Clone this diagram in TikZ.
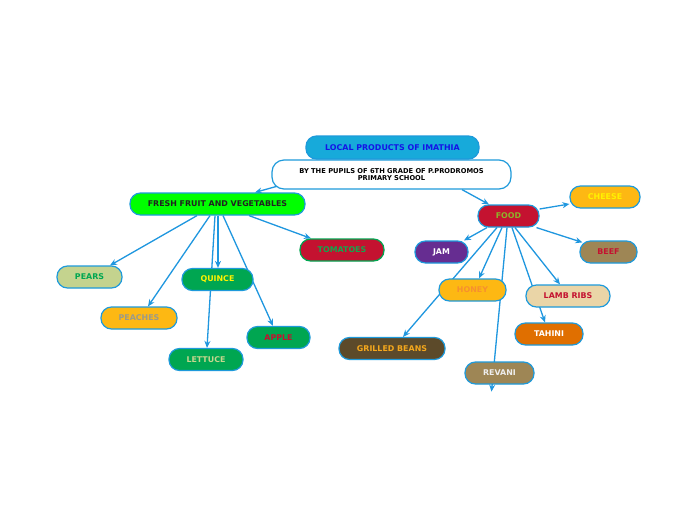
\documentclass[tikz,border=0pt]{standalone}
\usepackage{fontspec}
\setmainfont{DejaVu Sans}
\usetikzlibrary{arrows.meta,backgrounds}
\definecolor{bord}{HTML}{1E9ADB}
\definecolor{conn}{HTML}{1F97DF}
\definecolor{titlefill}{HTML}{17AADA}
\definecolor{titletext}{HTML}{1414E6}
\definecolor{lime}{HTML}{00FF00}
\definecolor{crim}{HTML}{C41230}
\definecolor{grn}{HTML}{00A651}
\definecolor{yel}{HTML}{FFF200}
\definecolor{amber}{HTML}{FDB813}
\definecolor{pear}{HTML}{C4D38E}
\definecolor{purp}{HTML}{662D91}
\definecolor{brn}{HTML}{9E8655}
\definecolor{dbrn}{HTML}{5C4A2A}
\definecolor{lamb}{HTML}{EAD5A7}
\definecolor{tah}{HTML}{E06F00}
\definecolor{olive}{HTML}{8DB52A}
\definecolor{honeytxt}{HTML}{F7902E}
\definecolor{beantxt}{HTML}{F5A81C}
\definecolor{peachtxt}{HTML}{9A9A8A}
\definecolor{lettxt}{HTML}{C7D68E}
\definecolor{revtxt}{HTML}{EEEEEE}
\definecolor{tomtxt}{HTML}{12A84E}
\definecolor{dark}{HTML}{222222}
\tikzset{
  pill/.style={draw=bord, line width=1.2pt, rounded corners=10.5pt, inner sep=0pt,
    minimum height=22pt, font=\fontsize{7.9}{9}\selectfont\bfseries, align=center},
  conn/.style={draw=conn, line width=1.3pt, -{Stealth[length=7pt,width=6pt]}},
}
\begin{document}
\begin{tikzpicture}[x=1pt,y=-1pt]
\useasboundingbox (0,0) rectangle (697,520);
% central nodes
\node[pill, fill=titlefill, text=titletext, minimum width=173pt, minimum height=23pt] (title) at (392.5,147.5) {LOCAL PRODUCTS OF IMATHIA};
\node[pill, fill=white, text=black, minimum width=239pt, minimum height=29pt, rounded corners=12pt, font=\fontsize{6.7}{7.6}\selectfont\bfseries] (sub) at (391.5,174.5) {BY THE PUPILS OF 6TH GRADE OF P.PRODROMOS\\PRIMARY SCHOOL};
% fruit branch
\node[pill, fill=lime, text=dark, minimum width=175pt] (fruit) at (217.5,204) {FRESH FRUIT AND VEGETABLES};
\node[pill, fill=crim, text=tomtxt, draw=grn, minimum width=84pt] (tom) at (342,250) {TOMATOES};
\node[pill, fill=pear, text=grn, minimum width=65pt] (pears) at (89.5,277) {PEARS};
\node[pill, fill=grn, text=yel, minimum width=71pt] (quince) at (217.5,279.5) {QUINCE};
\node[pill, fill=amber, text=peachtxt, minimum width=76pt] (peaches) at (139,318) {PEACHES};
\node[pill, fill=grn, text=crim, minimum width=63pt] (apple) at (278.5,337.5) {APPLE};
\node[pill, fill=grn, text=lettxt, minimum width=74pt] (lettuce) at (206,359.5) {LETTUCE};
% food branch
\node[pill, fill=crim, text=olive, minimum width=61pt] (food) at (508.5,216) {FOOD};
\node[pill, fill=amber, text=yel, minimum width=70pt] (cheese) at (605,197) {CHEESE};
\node[pill, fill=brn, text=crim, minimum width=57pt] (beef) at (608.5,252) {BEEF};
\node[pill, fill=purp, text=white, minimum width=53pt] (jam) at (441.5,252) {JAM};
\node[pill, fill=amber, text=honeytxt, minimum width=67pt] (honey) at (472.5,290) {HONEY};
\node[pill, fill=lamb, text=crim, minimum width=84pt] (lamb) at (568,296) {LAMB RIBS};
\node[pill, fill=tah, text=white, minimum width=68pt] (tahini) at (549,334) {TAHINI};
\node[pill, fill=dbrn, text=beantxt, minimum width=106pt] (beans) at (392,348.5) {GRILLED BEANS};
\node[pill, fill=brn, text=revtxt, minimum width=69pt] (revani) at (499.5,373) {REVANI};
\coordinate (revend) at ([xshift=-8pt,yshift=-7pt]revani.south);
\begin{pgfonlayer}{background}
\fill[white] (0,0) rectangle (697,520);
\draw[conn] ([xshift=-112pt,yshift=4pt]sub.south) -- ([xshift=37.5pt]fruit.north);
\draw[conn] ([xshift=70.5pt]sub.south) -- ([xshift=-19.5pt]food.north);
% fruit edges
\draw[conn] ([xshift=-20.5pt]fruit.south) -- ([xshift=20.5pt]pears.north);
\draw[conn] ([xshift=-7.5pt]fruit.south) -- ([xshift=9pt]peaches.north);
\draw[conn] ([xshift=0.5pt]fruit.south) -- ([xshift=0.5pt]quince.north);
\draw[conn] ([xshift=-2.5pt]fruit.south) -- ([xshift=1pt]lettuce.north);
\draw[conn] ([xshift=5.5pt]fruit.south) -- ([xshift=-5.5pt]apple.north);
\draw[conn] ([xshift=31.5pt]fruit.south) -- ([xshift=-31pt]tom.north);
% food edges
\draw[conn] ([yshift=7pt]food.east) -- ([yshift=-7pt]cheese.west);
\draw[conn] ([xshift=28pt]food.south) -- ([xshift=3pt,yshift=-2pt]beef.north west);
\draw[conn] ([xshift=-21.5pt]food.south) -- ([xshift=22.5pt]jam.north);
\draw[conn] ([xshift=-11.5pt]food.south) -- ([xshift=11pt]beans.north);
\draw[conn] ([xshift=-6.5pt]food.south) -- ([xshift=6.5pt]honey.north);
\draw[conn] ([xshift=-1.5pt]food.south) -- (revend);
\draw[conn] ([xshift=6.5pt]food.south) -- ([xshift=-8pt]lamb.north);
\draw[conn] ([xshift=3.5pt]food.south) -- ([xshift=-4pt]tahini.north);
\end{pgfonlayer}
\end{tikzpicture}
\end{document}
